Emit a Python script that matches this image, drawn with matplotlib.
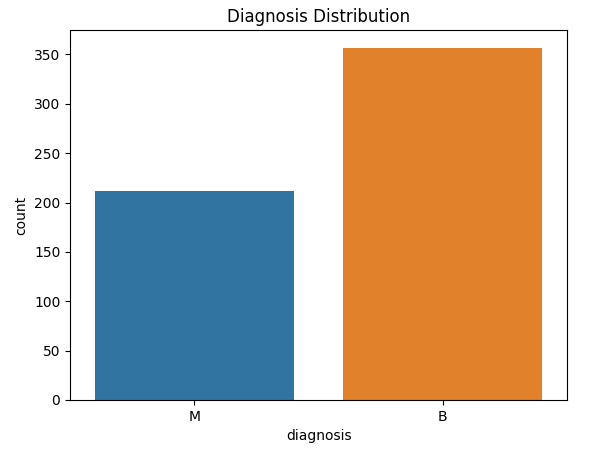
import matplotlib
matplotlib.use('Agg')
import matplotlib.pyplot as plt

categories = ['M', 'B']
counts = [212, 357]
colors = ['#3274a1', '#e1812c']

fig = plt.figure(figsize=(6.04, 4.53), dpi=100)
ax = fig.add_axes([0.116, 0.117, 0.823, 0.817])
ax.bar(range(len(categories)), counts, width=0.8, color=colors)
ax.set_xticks(range(len(categories)))
ax.set_xticklabels(categories)
ax.set_xlim(-0.5, 1.5)
ax.set_ylim(0, 374.85)
ax.set_xlabel('diagnosis')
ax.set_ylabel('count')
ax.set_title('Diagnosis Distribution')
fig.savefig('out.png', dpi=100)
